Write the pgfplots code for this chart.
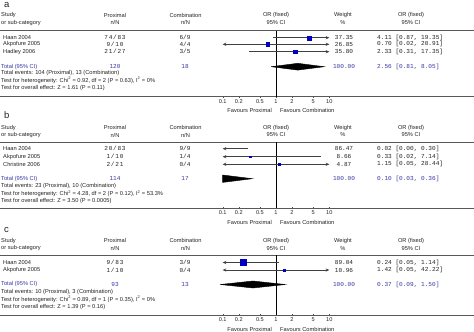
\documentclass[border=0pt]{standalone}
\usepackage{pgfplots}
\pgfplotsset{compat=1.18}
\usepackage{fontspec}
\setmainfont{Liberation Sans}
\newfontfamily\monof{Liberation Mono}
\newfontfamily\monow[LetterSpace=12]{Liberation Mono}
\usetikzlibrary{arrows.meta}
\definecolor{sqblue}{RGB}{0,0,190}
\definecolor{txtblue}{RGB}{55,55,165}
\definecolor{ink}{RGB}{35,35,35}
\tikzset{
  la/.style={arrows={Stealth[length=3.6pt,width=3.2pt]-}},
  ra/.style={arrows={-Stealth[length=3.6pt,width=3.2pt]}},
  ba/.style={arrows={Stealth[length=3.6pt,width=3.2pt]-Stealth[length=3.6pt,width=3.2pt]}},
  ci/.style={black!75, line width=0.75pt},
}
\pgfplotsset{every axis/.append style={
  width=474pt, scale only axis, xmode=log, xmin=6.64e-6, xmax=5188,
  axis x line=bottom, axis y line=none,
  x axis line style={-, black!65, line width=0.9pt},
  xtick={0.1,0.2,0.5,1,2,5,10}, xticklabels={0.1,0.2,0.5,1,2,5,10},
  minor xtick={}, major tick length=2pt, tick style={black!70},
  xticklabel style={font=\fontsize{5.6}{6}\selectfont, inner sep=0pt, yshift=-1.4pt, text=ink},
  /pgf/number format/assume math mode=true,
  clip=false, anchor=north west}}
\newcommand\lt[3]{\node[anchor=west] at (#1,#2) {#3};}
\newcommand\ct[3]{\node at (#1,#2) {#3};}
\newcommand\mt[3]{\node[font=\fontsize{6.1}{7}\monof] at (#1,#2) {#3};}
\newcommand\mw[3]{\node[font=\fontsize{6.1}{7}\monow] at (#1,#2) {#3};}
\newcommand\ot[3]{\node[anchor=west,font=\fontsize{6.1}{7}\monof] at (#1,#2) {#3};}
\begin{document}
\begin{tikzpicture}
\useasboundingbox (0pt,0pt) rectangle (474pt,-332pt);
% ---------------- panel a
\begin{axis}[at={(0pt,-30.7pt)}, height=66pt, ymin=-96.7, ymax=-30.7]
\draw[black!65, line width=0.9pt] (rel axis cs:0,1) -- (rel axis cs:1,1);
\addplot[black, line width=0.7pt] coordinates {(1,-30.7) (1,-96.7)};
\addplot[ci, ra] coordinates {(0.87,-37.7) (10,-37.7)};
\addplot[ci, ba] coordinates {(0.1,-44.3) (10,-44.3)};
\addplot[ci, ra] coordinates {(0.31,-51.7) (10,-51.7)};
\addplot[only marks, mark=square*, mark size=2.0pt, sqblue] coordinates {(4.11,-37.7)};
\addplot[only marks, mark=square*, mark size=1.7pt, sqblue] coordinates {(0.70,-44.3)};
\addplot[only marks, mark=square*, mark size=1.95pt, sqblue] coordinates {(2.33,-51.7)};
\addplot[fill=black, draw=black] coordinates {(0.81,-66.7) (2.56,-63.3) (8.05,-66.7) (2.56,-70.1) (0.81,-66.7)};
\end{axis}
% ---------------- panel b
\begin{axis}[at={(0pt,-142.3pt)}, height=66pt, ymin=-208.3, ymax=-142.3]
\draw[black!65, line width=0.9pt] (rel axis cs:0,1) -- (rel axis cs:1,1);
\addplot[black, line width=0.7pt] coordinates {(1,-142.3) (1,-208.3)};
\addplot[ci, la] coordinates {(0.1,-148.7) (0.30,-148.7)};
\addplot[ci, la] coordinates {(0.1,-156.7) (7.14,-156.7)};
\addplot[ci, ba] coordinates {(0.1,-164.3) (10,-164.3)};
\addplot[only marks, mark=square*, mark size=0.95pt, sqblue] coordinates {(0.33,-156.7)};
\addplot[only marks, mark=square*, mark size=0.75pt, sqblue] coordinates {(1.15,-164.3)};
\addplot[fill=black, draw=black] coordinates {(0.1,-175.0) (0.36,-178.7) (0.1,-182.4) (0.1,-175.0)};
\end{axis}
% ---------------- panel c
\begin{axis}[at={(0pt,-255.3pt)}, height=60pt, ymin=-315.3, ymax=-255.3]
\draw[black!65, line width=0.9pt] (rel axis cs:0,1) -- (rel axis cs:1,1);
\addplot[black, line width=0.7pt] coordinates {(1,-255.3) (1,-315.3)};
\addplot[ci, la] coordinates {(0.1,-262.5) (1.14,-262.5)};
\addplot[ci, ba] coordinates {(0.1,-270) (10,-270)};
\addplot[only marks, mark=square*, mark size=3.05pt, sqblue] coordinates {(0.24,-262.5)};
\addplot[only marks, mark=square*, mark size=1.08pt, sqblue] coordinates {(1.42,-270)};
\addplot[fill=black, draw=black] coordinates {(0.09,-284.5) (0.37,-281) (1.50,-284.5) (0.37,-288) (0.09,-284.5)};
\end{axis}
% ---------------- texts
\begin{scope}[x=1pt, y=-1pt, every node/.style={inner sep=0pt, text=ink, font=\fontsize{5.7}{6}\selectfont}]
\node[anchor=west, font=\fontsize{9.5}{10}\selectfont] at (4,4.5) {a};
\node[anchor=west, font=\fontsize{9.5}{10}\selectfont] at (4,115) {b};
\node[anchor=west, font=\fontsize{9.5}{10}\selectfont] at (4,229.5) {c};
\foreach \h/\s in {15/22.7, 127.7/135, 240.7/248.3}{
  \lt{1}{\h}{Study} \lt{1}{\s}{or sub-category}
  \ct{115}{\h}{Proximal} \ct{115}{\s}{n/N}
  \ct{185.5}{\h}{Combination} \ct{185.5}{\s}{n/N}
  \ct{276}{\h}{OR (fixed)} \ct{276}{\s}{95\% CI}
  \ct{343}{\h}{Weight} \ct{343}{\s}{\%}
  \ct{411}{\h}{OR (fixed)} \ct{411}{\s}{95\% CI}
}
\foreach \f in {110, 222, 329.3}{
  \node[anchor=east] at (272,\f) {Favours Proximal};
  \node[anchor=west] at (280,\f) {Favours Combination};
}
\lt{3}{37.7}{Haan 2004} \mw{115}{37.7}{74/83} \mt{185}{37.7}{6/9} \mt{344}{37.7}{37.35} \ot{377}{37.7}{4.11 [0.87, 19.35]}
\lt{3}{44.3}{Akpofure 2005} \mw{115}{44.3}{9/10} \mt{185}{44.3}{4/4} \mt{344}{44.3}{26.85} \ot{377}{44.3}{0.70 [0.02, 20.91]}
\lt{3}{51.7}{Hadley 2006} \mw{115}{51.7}{21/27} \mt{185}{51.7}{3/5} \mt{344}{51.7}{35.80} \ot{377}{51.7}{2.33 [0.31, 17.35]}
\begin{scope}[every node/.append style={text=txtblue}]
\lt{1}{66.7}{Total (95\% CI)} \mt{115}{66.7}{120} \mt{185}{66.7}{18} \mt{344}{66.7}{100.00} \ot{377}{66.7}{2.56 [0.81, 8.05]}
\end{scope}
\lt{1}{72.7}{Total events: 104 (Proximal), 13 (Combination)}
\lt{1}{80.3}{Test for heterogeneity: Chi\textsuperscript{2} = 0.92, df = 2 (P = 0.63), I\textsuperscript{2} = 0\%}
\lt{1}{88.1}{Test for overall effect: Z = 1.61 (P = 0.11)}
\lt{3}{148.7}{Haan 2004} \mw{115}{148.7}{20/83} \mt{185}{148.7}{9/9} \mt{344}{148.7}{86.47} \ot{377}{148.7}{0.02 [0.00, 0.30]}
\lt{3}{156.7}{Akpofure 2005} \mw{115}{156.7}{1/10} \mt{185}{156.7}{1/4} \mt{344}{156.7}{8.66} \ot{377}{156.7}{0.33 [0.02, 7.14]}
\lt{3}{164.3}{Christine 2006} \mw{115}{164.3}{2/21} \mt{185}{164.3}{0/4} \mt{344}{164.3}{4.87} \ot{377}{164.3}{1.15 [0.05, 28.44]}
\begin{scope}[every node/.append style={text=txtblue}]
\lt{1}{178.7}{Total (95\% CI)} \mt{115}{178.7}{114} \mt{185}{178.7}{17} \mt{344}{178.7}{100.00} \ot{377}{178.7}{0.10 [0.03, 0.36]}
\end{scope}
\lt{1}{186}{Total events: 23 (Proximal), 10 (Combination)}
\lt{1}{193.7}{Test for heterogeneity: Chi\textsuperscript{2} = 4.28, df = 2 (P = 0.12), I\textsuperscript{2} = 53.3\%}
\lt{1}{201.3}{Test for overall effect: Z = 3.50 (P = 0.0005)}
\lt{3}{262.5}{Haan 2004} \mw{115}{262.5}{9/83} \mt{185}{262.5}{3/9} \mt{344}{262.5}{89.04} \ot{377}{262.5}{0.24 [0.05, 1.14]}
\lt{3}{270}{Akpofure 2005} \mw{115}{270}{1/10} \mt{185}{270}{0/4} \mt{344}{270}{10.96} \ot{377}{270}{1.42 [0.05, 42.22]}
\begin{scope}[every node/.append style={text=txtblue}]
\lt{1}{284.5}{Total (95\% CI)} \mt{115}{284.5}{93} \mt{185}{284.5}{13} \mt{344}{284.5}{100.00} \ot{377}{284.5}{0.37 [0.09, 1.50]}
\end{scope}
\lt{1}{291.7}{Total events: 10 (Proximal), 3 (Combination)}
\lt{1}{299.3}{Test for heterogeneity: Chi\textsuperscript{2} = 0.89, df = 1 (P = 0.35), I\textsuperscript{2} = 0\%}
\lt{1}{307.1}{Test for overall effect: Z = 1.39 (P = 0.16)}
\end{scope}
\end{tikzpicture}
\end{document}
